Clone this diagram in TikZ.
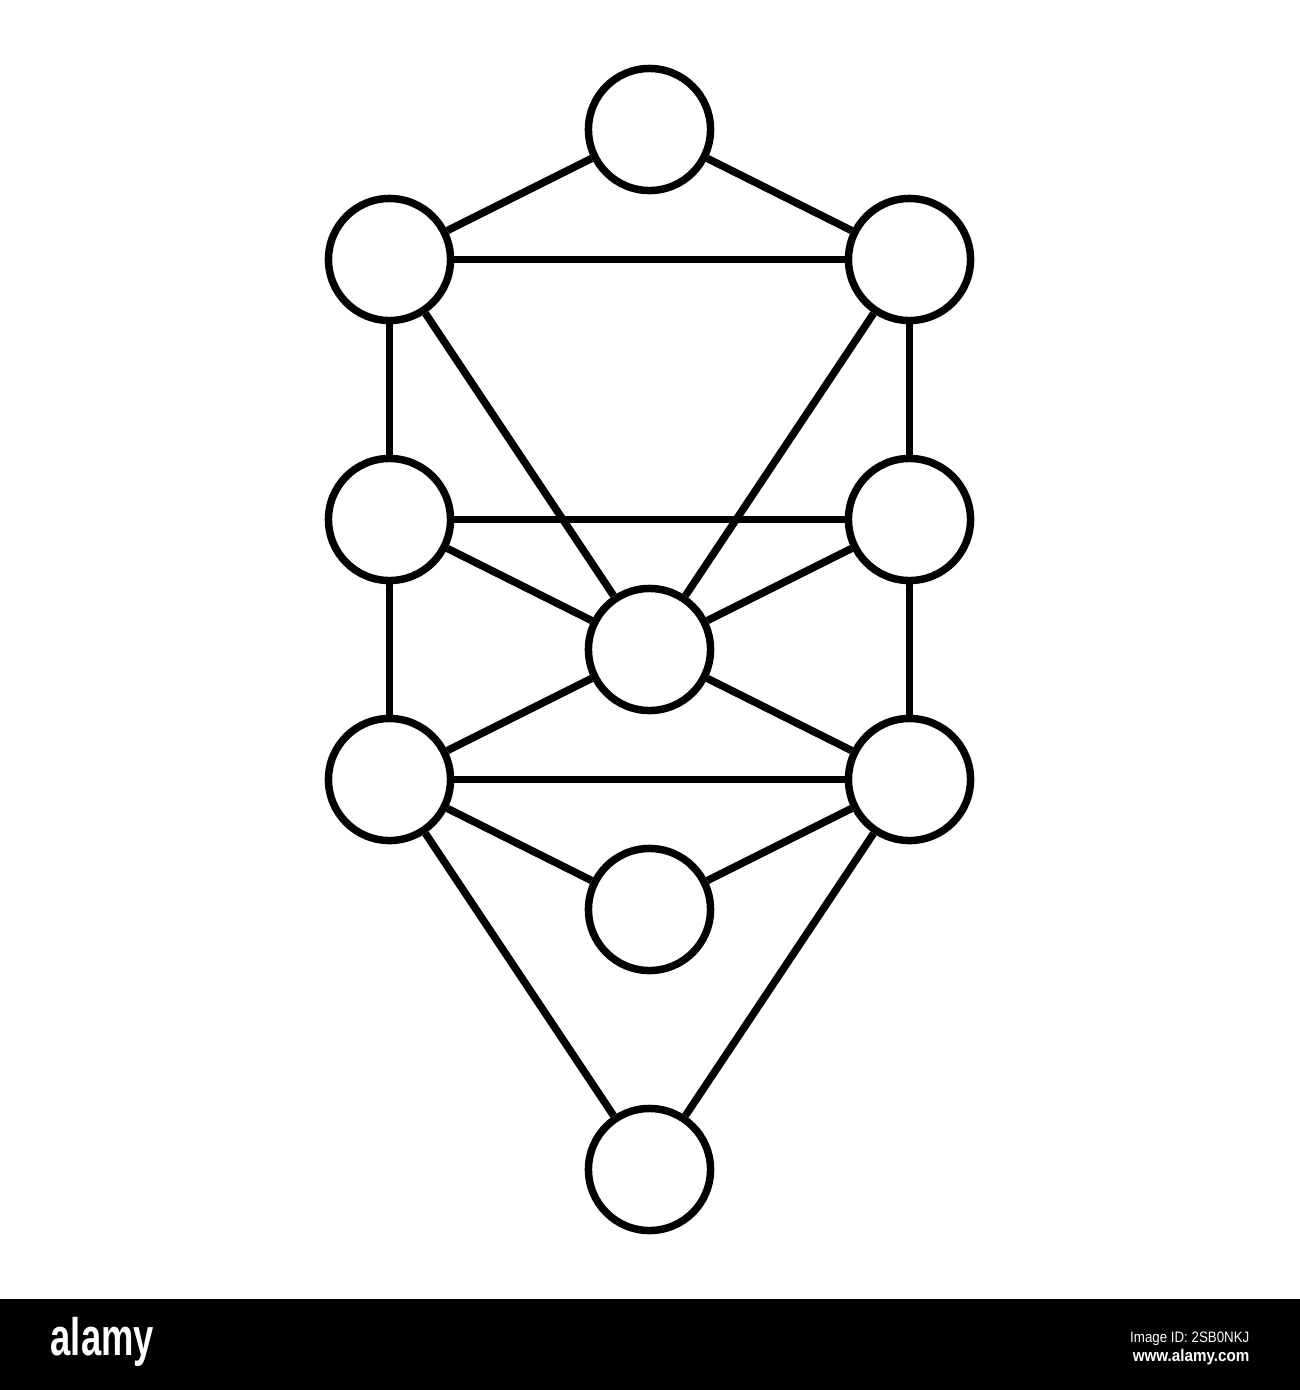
\documentclass[tikz,border=0pt]{standalone}
\usepackage{fontspec}
\setmainfont{Liberation Sans}
\begin{document}
\begin{tikzpicture}[x=0.01cm,y=-0.01cm]
      \useasboundingbox (0,0) rectangle (1300,1390);
      \begin{scope}[every node/.style={circle,line width=0.075cm,draw,fill=white,minimum size=1.22cm,inner sep=0pt}]
        \node (top)  at (649.5,129.5)  {};
        \node (upl)  at (389.5,259.5)  {};
        \node (upr)  at (909.5,259.5)  {};
        \node (midl) at (389.5,519.5)  {};
        \node (midr) at (909.5,519.5)  {};
        \node (ctr)  at (649.5,649.5)  {};
        \node (lowl) at (389.5,779.5)  {};
        \node (lowr) at (909.5,779.5)  {};
        \node (lowc) at (649.5,909.5)  {};
        \node (bot)  at (649.5,1169.5) {};
      \end{scope}
      \begin{scope}[every edge/.style={draw=black,line width=0.075cm}]
        \path (top) edge (upl);
        \path (top) edge (upr);
        \path (upl) edge (upr);
        \path (upl) edge (midl);
        \path (upr) edge (midr);
        \path (upl) edge (ctr);
        \path (upr) edge (ctr);
        \path (midl) edge (midr);
        \path (midl) edge (ctr);
        \path (midr) edge (ctr);
        \path (midl) edge (lowl);
        \path (midr) edge (lowr);
        \path (ctr) edge (lowl);
        \path (ctr) edge (lowr);
        \path (lowl) edge (lowr);
        \path (lowl) edge (lowc);
        \path (lowr) edge (lowc);
        \path (lowl) edge (bot);
        \path (lowr) edge (bot);
      \end{scope}
      % watermark strip
      \fill[black] (0,1299) rectangle (1300,1390);
      \node[text=white,anchor=west,inner sep=0pt,font=\bfseries\fontsize{15pt}{15pt}\selectfont] (brand) at (50,1342) {\scalebox{0.69}[1]{alamy}};
      \node[text=white,anchor=east,inner sep=0pt,font=\fontsize{4.3pt}{5pt}\selectfont] (imgid) at (1250,1339) {\scalebox{0.88}[1]{Image ID: 2SB0NKJ}};
      \node[text=white,anchor=east,inner sep=0pt,font=\bfseries\fontsize{4.8pt}{5pt}\selectfont] (site) at (1250,1357) {\scalebox{0.9}[1]{www.alamy.com}};
    \end{tikzpicture}
\end{document}
